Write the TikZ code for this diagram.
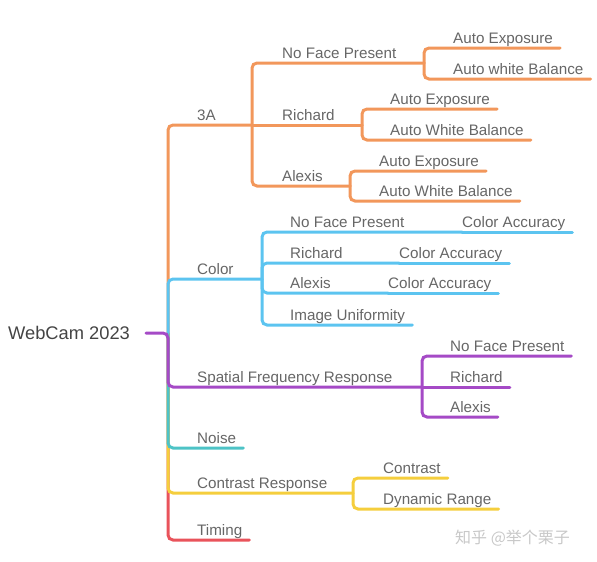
\documentclass[tikz,border=0pt]{standalone}
\usepackage{fontspec}
\setmainfont{Liberation Sans}
\newfontfamily\cjkfont{Noto Sans CJK SC}
\definecolor{cOr}{HTML}{F2975B}
\definecolor{cBlue}{HTML}{5CC4F0}
\definecolor{cPur}{HTML}{A54AC6}
\definecolor{cTeal}{HTML}{4DC3C6}
\definecolor{cYel}{HTML}{F5CE3D}
\definecolor{cRed}{HTML}{E9535B}
\definecolor{lblgray}{HTML}{666666}
\definecolor{rootgray}{HTML}{444444}
\definecolor{wmgray}{HTML}{C8C8C8}
\begin{document}
\begin{tikzpicture}[x=1pt,y=-1pt,
  lbl/.style={anchor=south west, inner xsep=0pt, inner ysep=4.5pt, text depth=0pt,
    font=\fontsize{15.2}{18}\selectfont, text=lblgray},
  rootlbl/.style={anchor=base west, inner sep=0pt, font=\fontsize{18.3}{22}\selectfont, text=rootgray},
  br/.style={line width=3pt, rounded corners=5pt, line cap=round},
  wmark/.style={anchor=west, inner sep=0pt, font=\cjkfont\fontsize{16}{18}\selectfont, text=wmgray}
]
\useasboundingbox (0,0) rectangle (597,562);

% root
\node[rootlbl] (root) at (8,339) {WebCam 2023};
\coordinate (R-s) at (146,333);
\coordinate (R-j) at (168,333);

% level 1
\node[lbl] (a3)  at (197,125) {3A};
\coordinate (a3-j) at (252,125);
\node[lbl] (col) at (197,279) {Color};
\coordinate (col-j) at (262,279);
\node[lbl] (sfr) at (197,387) {Spatial Frequency Response};
\coordinate (sfr-j) at (422,387);
\node[lbl] (noi) at (197,448) {Noise};
\node[lbl] (crs) at (197,493) {Contrast Response};
\coordinate (crs-j) at (353,493);
\node[lbl] (tim) at (197,540) {Timing};

\draw[br,cRed]  (R-j) |- (tim.south west) -- ([xshift=7pt]tim.south east);
\draw[br,cYel]  (R-j) |- (crs.south west) -- (crs-j);
\draw[br,cTeal] (R-j) |- (noi.south west) -- ([xshift=7pt]noi.south east);
\draw[br,cOr]   (R-j) |- (a3.south west) -- (a3-j);
\draw[br,cBlue] (R-j) |- (col.south west) -- (col-j);
\draw[br,cPur]  (R-s) -- (R-j) |- (sfr.south west) -- (sfr-j);

% 3A children
\node[lbl] (a3n) at (282,63) {No Face Present};
\coordinate (a3n-j) at (424,63);
\node[lbl] (a3r) at (282,125) {Richard};
\coordinate (a3r-j) at (362,125);
\node[lbl] (a3a) at (282,186) {Alexis};
\coordinate (a3a-j) at (350,186);
\draw[br,cOr] (a3-j) |- (a3n.south west) -- (a3n-j);
\draw[br,cOr] (a3-j) -- (a3r.south west) -- (a3r-j);
\draw[br,cOr] (a3-j) |- (a3a.south west) -- (a3a-j);

\node[lbl] (a3n1) at (453,48) {Auto Exposure};
\node[lbl] (a3n2) at (453,79) {Auto white Balance};
\draw[br,cOr] (a3n-j) |- (a3n1.south west) -- ([xshift=7pt]a3n1.south east);
\draw[br,cOr] (a3n-j) |- (a3n2.south west) -- ([xshift=7pt]a3n2.south east);

\node[lbl] (a3r1) at (390,109) {Auto Exposure};
\node[lbl] (a3r2) at (390,140) {Auto White Balance};
\draw[br,cOr] (a3r-j) |- (a3r1.south west) -- ([xshift=7pt]a3r1.south east);
\draw[br,cOr] (a3r-j) |- (a3r2.south west) -- ([xshift=7pt]a3r2.south east);

\node[lbl] (a3a1) at (379,171) {Auto Exposure};
\node[lbl] (a3a2) at (379,201) {Auto White Balance};
\draw[br,cOr] (a3a-j) |- (a3a1.south west) -- ([xshift=7pt]a3a1.south east);
\draw[br,cOr] (a3a-j) |- (a3a2.south west) -- ([xshift=7pt]a3a2.south east);

% Color children
\node[lbl] (cn)  at (290,232) {No Face Present};
\node[lbl] (cn1) at (462,232) {Color Accuracy};
\node[lbl] (cr)  at (290,263) {Richard};
\node[lbl] (cr1) at (399,263) {Color Accuracy};
\node[lbl] (ca)  at (290,293) {Alexis};
\node[lbl] (ca1) at (388,293) {Color Accuracy};
\node[lbl] (cu)  at (290,325) {Image Uniformity};
\draw[br,cBlue] (col-j) |- (cn.south west) -- (cn1.south west);
\draw[br,cBlue] (cn1.south west) -- ([xshift=7pt]cn1.south east);
\draw[br,cBlue] (col-j) |- (cr.south west) -- (cr1.south west);
\draw[br,cBlue] (cr1.south west) -- ([xshift=7pt]cr1.south east);
\draw[br,cBlue] (col-j) |- (ca.south west) -- (ca1.south west);
\draw[br,cBlue] (ca1.south west) -- ([xshift=7pt]ca1.south east);
\draw[br,cBlue] (col-j) |- (cu.south west) -- ([xshift=7pt]cu.south east);

% SFR children
\node[lbl] (sn) at (450,356) {No Face Present};
\node[lbl] (sr) at (450,387) {Richard};
\node[lbl] (sa) at (450,417) {Alexis};
\draw[br,cPur] (sfr-j) |- (sn.south west) -- ([xshift=7pt]sn.south east);
\draw[br,cPur] (sfr-j) -- (sr.south west) -- ([xshift=7pt]sr.south east);
\draw[br,cPur] (sfr-j) |- (sa.south west) -- ([xshift=7pt]sa.south east);

% Contrast Response children
\node[lbl] (cc) at (383,478) {Contrast};
\node[lbl] (cd) at (383,509) {Dynamic Range};
\draw[br,cYel] (crs-j) |- (cc.south west) -- ([xshift=7pt]cc.south east);
\draw[br,cYel] (crs-j) |- (cd.south west) -- ([xshift=7pt]cd.south east);

% watermark
\node[wmark] (wm) at (455,538) {知乎 @举个栗子};
\end{tikzpicture}
\end{document}
